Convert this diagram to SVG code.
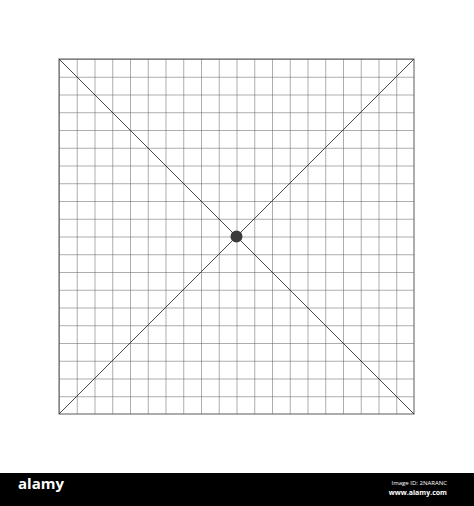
<svg xmlns="http://www.w3.org/2000/svg" width="474" height="506" viewBox="0 0 474 506">
<defs>
<style>
.g{stroke:#5a5a5a;stroke-width:1;fill:none}
.d{stroke:#333;stroke-width:0.9;fill:none}
.w{fill:#fff;font-family:"Open Sans","Liberation Sans",sans-serif}
</style>
<pattern id="grid" x="59" y="59" width="17.75" height="17.75" patternUnits="userSpaceOnUse">
<path d="M0 0H17.75M0 0V17.75" class="g"/>
</pattern>
</defs>
<rect width="474" height="506" fill="#fff"/>
<g id="grid-node">
<rect x="59" y="59" width="355" height="355" fill="url(#grid)"/>
<rect x="59" y="59" width="355" height="355" class="g"/>
</g>
<g id="connectors">
<line x1="59" y1="59" x2="414" y2="414" class="d"/>
<line x1="414" y1="59" x2="59" y2="414" class="d"/>
</g>
<g id="center-dot">
<circle cx="236.5" cy="236.5" r="6" fill="#3a3a3a"/>
</g>
<g id="watermark">
<rect x="0" y="473" width="474" height="33" fill="#000"/>
<text x="18" y="489" class="w" font-size="15" font-weight="bold">alamy</text>
<text x="447" y="485" class="w" font-size="6" text-anchor="end">Image ID: 2NARANC</text>
<text x="447" y="495" class="w" font-size="7" font-weight="bold" text-anchor="end">www.alamy.com</text>
</g>
</svg>
